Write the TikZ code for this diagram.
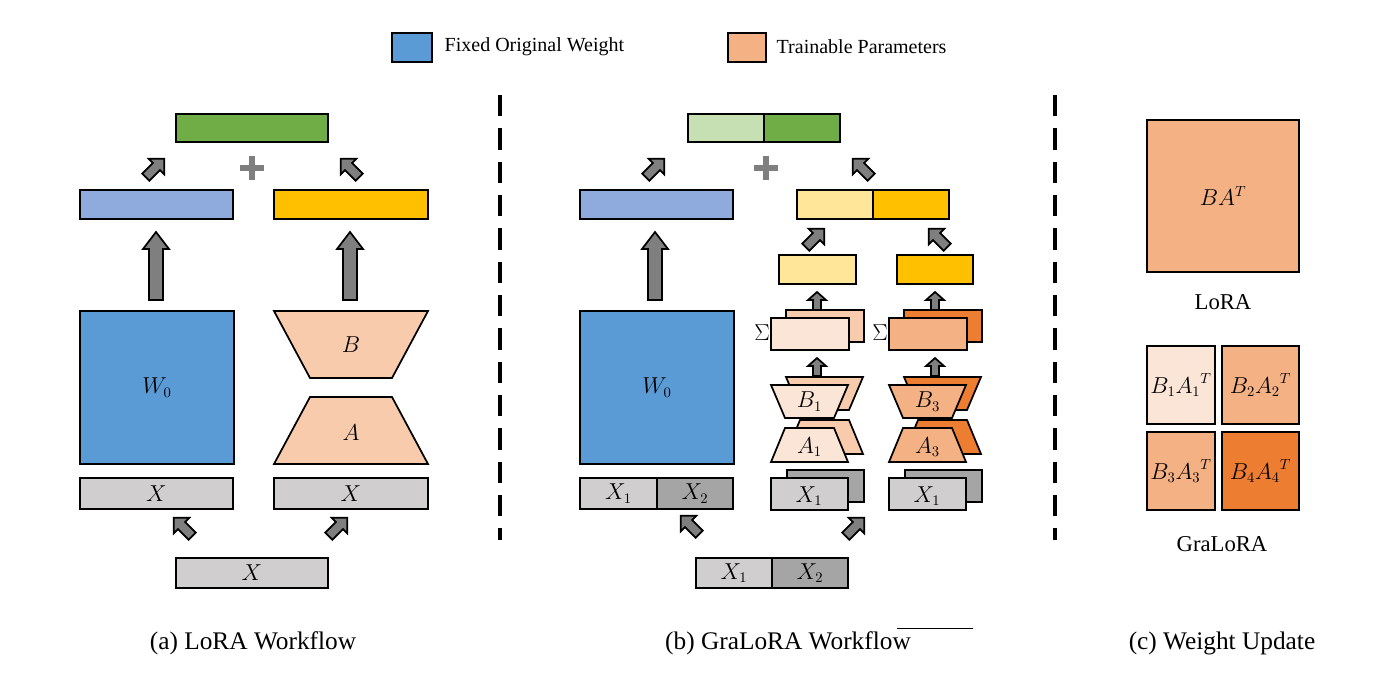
\documentclass[tikz,border=0pt]{standalone}
\usepackage{fontspec}
\setmainfont{Liberation Serif}
\begin{document}
\definecolor{bfix}{HTML}{5B9BD5}
\definecolor{blt}{HTML}{8FAADC}
\definecolor{grn}{HTML}{70AD47}
\definecolor{lgrn}{HTML}{C6E0B4}
\definecolor{yel}{HTML}{FFC000}
\definecolor{lyel}{HTML}{FFE699}
\definecolor{p1}{HTML}{FBE5D6}
\definecolor{p2}{HTML}{F8CBAD}
\definecolor{p3}{HTML}{F4B183}
\definecolor{p4}{HTML}{ED7D31}
\definecolor{gx}{HTML}{D0CECE}
\definecolor{gd}{HTML}{A5A5A5}
\definecolor{ag}{HTML}{7F7F7F}
\newcommand\bx[7]{\node[box,fill=#6,minimum width={(#4-#2)*0.75pt},minimum height={(#5-#3)*0.75pt}] (#1) at ({(#2+#4)/2},{(#3+#5)/2}) {#7};}
% block arrow: x,y center, len, angle, w,h,hl
\newcommand\barr[7]{\begin{scope}[shift={(#1,#2)},rotate=#4]
\draw[line width=1.3pt,fill=ag,line join=miter] (-#5,#3/2) -- (-#5,-#3/2+#7) -- (-#6,-#3/2+#7) -- (0,-#3/2) -- (#6,-#3/2+#7) -- (#5,-#3/2+#7) -- (#5,#3/2) -- cycle;
\end{scope}}
\newcommand\bigarr[2]{\barr{#1}{#2}{68}{0}{7}{13}{17}}
\newcommand\diar[3]{\barr{#1}{#2}{26}{#3}{5}{11}{11}}
\newcommand\smar[2]{\barr{#1}{#2}{18}{0}{4}{9}{8}}
\newcommand\plusg[2]{\draw[ag,line width=4pt] (#1-12,#2) -- (#1+12,#2) (#1,#2-12) -- (#1,#2+12);}
\newcommand\trapB[7]{\draw[line width=1.3pt,fill=#7] (#1,#2) -- (#3,#2) -- (#3-#5,#4) -- (#1+#5,#4) -- cycle; \node at ({(#1+#3)/2},{(#2+#4)/2}) {#6};}
\newcommand\trapA[7]{\draw[line width=1.3pt,fill=#7] (#1+#5,#2) -- (#3-#5,#2) -- (#3,#4) -- (#1,#4) -- cycle; \node at ({(#1+#3)/2},{(#2+#4)/2+2}) {#6};}
\begin{tikzpicture}[x=0.75pt,y=-0.75pt,
  box/.style={draw,line width=1.3pt,inner sep=0pt,font=\fontsize{16}{18}\selectfont},
  every node/.append style={font=\fontsize{16}{18}\selectfont}]
\useasboundingbox (0,0) rectangle (1376,675);
% legend
\bx{lg1}{392}{33}{432}{62}{bfix}{}
\node[anchor=west,font=\fontsize{15}{17}\selectfont] (lt1) at (440,47) {Fixed Original Weight};
\bx{lg2}{728}{33}{766}{62}{p3}{}
\node[anchor=west,font=\fontsize{15}{17}\selectfont] (lt2) at (772,47) {Trainable Parameters};
% dashed separators
\draw[line width=3pt,dash pattern=on 16pt off 9pt] (500,95) -- (500,540);
\draw[line width=3pt,dash pattern=on 16pt off 9pt] (1055,95) -- (1055,540);
% ---- panel a
\bx{ag}{176}{114}{328}{142}{grn}{}
\plusg{252}{168}
\diar{155}{168}{-45}
\diar{350}{168}{45}
\bx{ab}{80}{190}{233}{219}{blt}{}
\bx{ay}{274}{190}{428}{219}{yel}{}
\bigarr{156}{266}
\bigarr{350}{266}
\bx{aw}{80}{311}{234}{464}{bfix}{$W_0$}
\trapB{274}{311}{428}{378}{36}{$B$}{p2}
\trapA{274}{397}{428}{464}{36}{$A$}{p2}
\bx{ax1}{80}{478}{233}{509}{gx}{$X$}
\bx{ax2}{274}{478}{428}{509}{gx}{$X$}
\diar{183}{527}{45}
\diar{338}{527}{-45}
\bx{ax}{176}{558}{328}{588}{gx}{$X$}
\node (ca) at (253,643) {\fontsize{19}{22}\selectfont (a) LoRA Workflow};
% ---- panel b
\bx{bg1}{688}{114}{764}{142}{lgrn}{}
\bx{bg2}{764}{114}{840}{142}{grn}{}
\plusg{766}{168}
\diar{655}{168}{-45}
\diar{862}{168}{45}
\bx{bb}{580}{190}{733}{219}{blt}{}
\bigarr{655}{266}
\bx{bw}{580}{311}{734}{464}{bfix}{$W_0$}
\bx{bx1}{580}{478}{657}{509}{gx}{$X_1$}
\bx{bx2}{657}{478}{733}{509}{gd}{$X_2$}
\bx{by1}{797}{190}{873}{219}{lyel}{}
\bx{by2}{873}{190}{949}{219}{yel}{}
\diar{815}{238}{-45}
\diar{938}{238}{45}
\bx{bs1}{779}{255}{856}{284}{lyel}{}
\bx{bs2}{897}{973}{973}{284}{yel}{}
% columns
\foreach \o/\fa/\fb/\n in {0/p1/p2/1,118/p3/p4/3}{
  \smar{817+\o}{301}
  \smar{817+\o}{367}
  \draw[line width=1.3pt,fill=\fb] (786+\o,310) rectangle (864+\o,342);
  \draw[line width=1.3pt,fill=\fa] (771+\o,318) rectangle (849+\o,350);
  \node at (762+\o,333) {$\Sigma$};
  \trapB{786+\o}{377}{863+\o}{410}{14}{}{\fb}
  \trapB{771+\o}{385}{848+\o}{418}{14}{$B_\n$}{\fa}
  \trapA{786+\o}{420}{863+\o}{454}{14}{}{\fb}
  \trapA{771+\o}{428}{848+\o}{462}{14}{$A_\n$}{\fa}
  \draw[line width=1.3pt,fill=gd] (787+\o,470) rectangle (864+\o,502);
  \draw[line width=1.3pt,fill=gx] (771+\o,478) rectangle (848+\o,510);
  \node at (809+\o,496) {$X_1$};
}
\bx{bs2}{897}{255}{973}{284}{yel}{}
\diar{690}{525}{45}
\diar{855}{527}{-45}
\bx{bx3}{696}{558}{772}{588}{gx}{$X_1$}
\bx{bx4}{772}{558}{848}{588}{gd}{$X_2$}
\node (cb) at (788,643) {\fontsize{19}{22}\selectfont (b) GraLoRA Workflow};
% ---- panel c
\bx{cw}{1147}{120}{1299}{272}{p3}{$BA^T$}
\node (cl) at (1223,302) {\fontsize{17}{20}\selectfont LoRA};
\bx{c1}{1147}{346}{1215}{424}{p1}{$B_1{A_1}^T$}
\bx{c2}{1222}{346}{1299}{424}{p3}{$B_2{A_2}^T$}
\bx{c3}{1147}{432}{1215}{510}{p3}{$B_3{A_3}^T$}
\bx{c4}{1222}{432}{1299}{510}{p4}{$B_4{A_4}^T$}
\node (cg) at (1222,544) {\fontsize{17}{20}\selectfont GraLoRA};
\node (cc) at (1222,643) {\fontsize{19}{22}\selectfont (c) Weight Update};
\end{tikzpicture}
\end{document}
